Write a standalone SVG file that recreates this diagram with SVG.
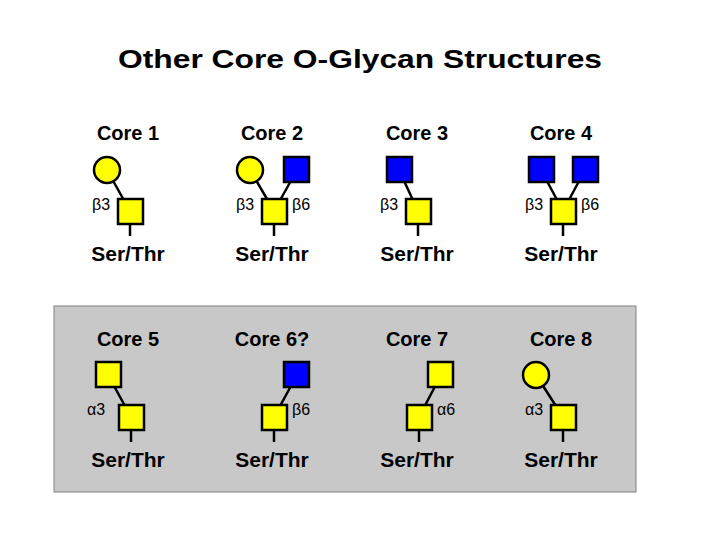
<svg xmlns="http://www.w3.org/2000/svg" width="720" height="540" viewBox="0 0 720 540">
<style>
.t{font-family:"Liberation Sans",Arial,sans-serif;font-weight:bold;fill:#000;text-anchor:middle}
.c{font-size:20px}
.s{font-size:21px}
.l{font-family:"Liberation Sans",Arial,sans-serif;font-size:16px;fill:#000}
.y{fill:#ffff00;stroke:#000;stroke-width:2.5}
.b{fill:#0000ff;stroke:#000;stroke-width:2.5}
.e{stroke:#000;stroke-width:2.5;fill:none}
</style>
<rect width="720" height="540" fill="#fff"/>
<text class="t" x="360" y="68" font-size="26" textLength="484" lengthAdjust="spacingAndGlyphs">Other Core O-Glycan Structures</text>
<rect x="54" y="306" width="582" height="186" fill="#c8c8c8" stroke="#808080" stroke-width="1"/>
<g id="connectors">
<path class="e" d="M130 224V236M107 170L130 211M274 224V236M250 170L274 211M297 170L274 211M418 224V236M399 170L418 211M563 224V236M541 170L563 211M585 170L563 211"/>
<path class="e" d="M131 430V442M108 375L131 417M274 430V442M297 375L274 417M419 430V442M441 375L419 417M563 430V442M536 375L563 417"/>
</g>
<g id="core1"><text class="t c" x="128" y="140">Core 1</text>
<circle class="y" cx="107" cy="170" r="13"/><rect class="y" x="118" y="199" width="25" height="25"/>
<text class="l" x="92" y="210">β3</text><text class="t s" x="128" y="261">Ser/Thr</text></g>
<g id="core2"><text class="t c" x="272" y="140">Core 2</text>
<circle class="y" cx="250" cy="170" r="13"/><rect class="b" x="284" y="157" width="25" height="25"/><rect class="y" x="262" y="199" width="25" height="25"/>
<text class="l" x="236" y="210">β3</text><text class="l" x="292" y="210">β6</text><text class="t s" x="272" y="261">Ser/Thr</text></g>
<g id="core3"><text class="t c" x="417" y="140">Core 3</text>
<rect class="b" x="387" y="157" width="25" height="25"/><rect class="y" x="406" y="199" width="25" height="25"/>
<text class="l" x="380" y="210">β3</text><text class="t s" x="417" y="261">Ser/Thr</text></g>
<g id="core4"><text class="t c" x="561" y="140">Core 4</text>
<rect class="b" x="529" y="157" width="25" height="25"/><rect class="b" x="573" y="157" width="25" height="25"/><rect class="y" x="551" y="199" width="25" height="25"/>
<text class="l" x="525" y="210">β3</text><text class="l" x="581" y="210">β6</text><text class="t s" x="561" y="261">Ser/Thr</text></g>
<g id="core5"><text class="t c" x="128" y="346">Core 5</text>
<rect class="y" x="96" y="362" width="25" height="25"/><rect class="y" x="119" y="405" width="25" height="25"/>
<text class="l" x="87" y="415">α3</text><text class="t s" x="128" y="467">Ser/Thr</text></g>
<g id="core6"><text class="t c" x="272" y="346">Core 6?</text>
<rect class="b" x="284" y="362" width="25" height="25"/><rect class="y" x="262" y="405" width="25" height="25"/>
<text class="l" x="292" y="415">β6</text><text class="t s" x="272" y="467">Ser/Thr</text></g>
<g id="core7"><text class="t c" x="417" y="346">Core 7</text>
<rect class="y" x="428" y="362" width="25" height="25"/><rect class="y" x="407" y="405" width="25" height="25"/>
<text class="l" x="437" y="415">α6</text><text class="t s" x="417" y="467">Ser/Thr</text></g>
<g id="core8"><text class="t c" x="561" y="346">Core 8</text>
<circle class="y" cx="536" cy="375" r="13"/><rect class="y" x="551" y="405" width="25" height="25"/>
<text class="l" x="525" y="415">α3</text><text class="t s" x="561" y="467">Ser/Thr</text></g>
</svg>
